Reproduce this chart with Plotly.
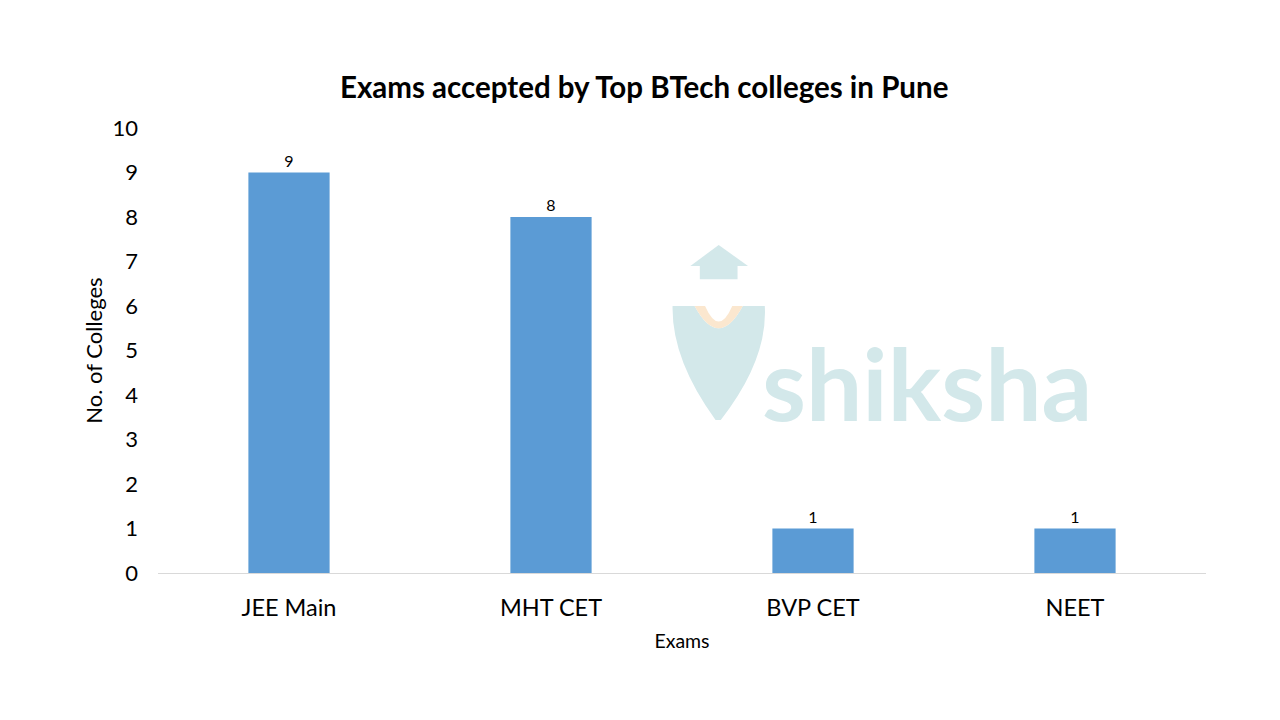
import plotly.graph_objects as go

exams = ["JEE Main", "MHT CET", "BVP CET", "NEET"]
colleges = [9, 8, 1, 1]
y_ticks = [0, 1, 2, 3, 4, 5, 6, 7, 8, 9, 10]

FONT = "Lato, 'Open Sans', sans-serif"
WM = "#d3e8ea"

fig = go.Figure()
fig.add_trace(go.Bar(
    x=exams, y=colleges,
    marker=dict(color="#5b9bd5", line=dict(width=0)),
    text=[str(v) for v in colleges], textposition="outside",
    textfont=dict(size=16, color="#000000", family=FONT),
    cliponaxis=False,
))

# watermark
fig.add_annotation(x=0.734, y=0.43, xref="paper", yref="paper", text="<b>shiksha</b>",
                   showarrow=False, font=dict(size=100, color=WM, family="Lato, sans-serif"),
                   xanchor="center", yanchor="middle")
fig.add_shape(type="path", xref="paper", yref="paper", layer="below",
              path="M 0.491 0.60 Q 0.49 0.48 0.532 0.344 L 0.537 0.344 "
                   "Q 0.582 0.48 0.579 0.60 L 0.558 0.60 Q 0.535 0.50 0.512 0.60 Z",
              fillcolor=WM, line=dict(width=0))
fig.add_shape(type="path", xref="paper", yref="paper", layer="below",
              path="M 0.512 0.60 Q 0.535 0.50 0.558 0.60 L 0.548 0.60 Q 0.535 0.53 0.522 0.60 Z",
              fillcolor="#fbe7cf", line=dict(width=0))
fig.add_shape(type="path", xref="paper", yref="paper", layer="below",
              path="M 0.508 0.69 L 0.535 0.737 L 0.563 0.69 Z",
              fillcolor=WM, line=dict(width=0))
fig.add_shape(type="rect", xref="paper", yref="paper", layer="below",
              x0=0.517, x1=0.553, y0=0.66, y1=0.69,
              fillcolor=WM, line=dict(width=0))

fig.update_layout(
    width=1280, height=720,
    margin=dict(l=150, r=82, t=120, b=155),
    paper_bgcolor="#ffffff", plot_bgcolor="#ffffff",
    title=dict(text="<b>Exams accepted by Top BTech colleges in Pune</b>",
               x=0.497, xanchor="center", y=0.89, yanchor="middle",
               font=dict(size=29.5, color="#000000", family=FONT)),
    bargap=0.69,
    showlegend=False,
    font=dict(family=FONT, color="#000000"),
)
fig.update_xaxes(
    showgrid=False, showline=True, linecolor="#d9d9d9", linewidth=1,
    ticks="", tickfont=dict(size=23.5, color="#000000"), ticklabelstandoff=14,
    title=dict(text="Exams", font=dict(size=19.5, color="#000000"), standoff=14),
)
fig.update_yaxes(
    range=[0, 10], tickvals=y_ticks, showgrid=False, zeroline=False, showline=False,
    ticks="", tickfont=dict(size=22, color="#000000"), ticklabelstandoff=19,
    title=dict(text="No. of Colleges", font=dict(size=22, color="#000000"), standoff=3),
)

fig.write_html("out.html")
